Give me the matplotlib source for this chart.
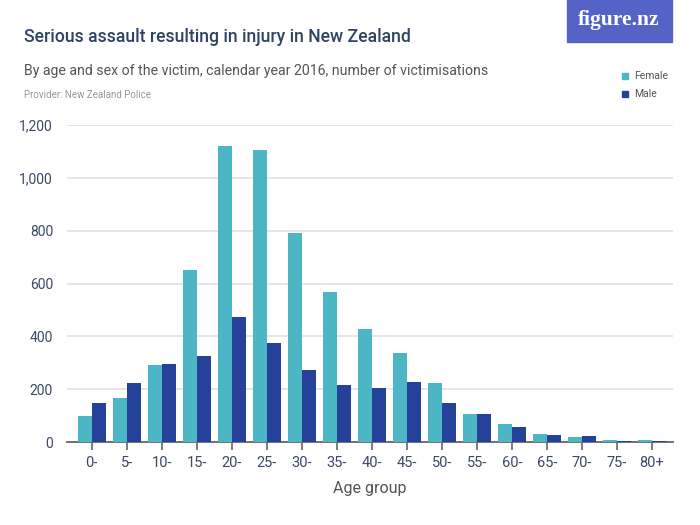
import matplotlib.pyplot as plt
import numpy as np
from matplotlib.patches import Rectangle

age_groups = ['0-', '5-', '10-', '15-', '20-', '25-', '30-', '35-', '40-',
              '45-', '50-', '55-', '60-', '65-', '70-', '75-', '80+']
female = [97, 168, 292, 652, 1122, 1104, 792, 569, 429,
          338, 224, 105, 69, 30, 19, 8, 7]
male = [148, 222, 297, 325, 474, 373, 274, 217, 205,
        226, 148, 107, 58, 28, 23, 4, 3]

female_color = '#4db6c5'
male_color = '#26419a'
text_color = '#3b4a66'
font = ['Roboto', 'DejaVu Sans']

fig = plt.figure(figsize=(7, 5.25), dpi=100)
ax = fig.add_axes([67 / 700, 1 - 442 / 525, 606 / 700, 317 / 525])

x = np.arange(len(age_groups))
w = 0.4
ax.bar(x - w / 2, female, w, color=female_color, zorder=3)
ax.bar(x + w / 2, male, w, color=male_color, zorder=3)

ax.set_xlim(-0.7, 16.6)
ax.set_ylim(0, 1200)
ax.set_yticks(range(0, 1201, 200))
ax.set_yticklabels(['0', '200', '400', '600', '800', '1,000', '1,200'])
ax.set_xticks(x)
ax.set_xticklabels(age_groups)
ax.grid(axis='y', color='#e2e2e2', linewidth=1.2, zorder=0)
for s in ['top', 'right', 'left']:
    ax.spines[s].set_visible(False)
ax.spines['bottom'].set_color('#666666')
ax.spines['bottom'].set_linewidth(1.3)
ax.tick_params(axis='y', length=0, pad=10, labelsize=10, labelcolor=text_color)
ax.tick_params(axis='x', length=6, width=1.2, color='#666666', pad=4,
               labelsize=10.5, labelcolor=text_color)
for lab in ax.get_xticklabels() + ax.get_yticklabels():
    lab.set_family(font)
ax.set_xlabel('Age group', fontsize=11.5, color='#555555', family=font, labelpad=8)

fig.text(24 / 700, 1 - 42 / 525, 'Serious assault resulting in injury in New Zealand',
         fontsize=12.7, fontweight='medium', color='#2f4366', family=font)
fig.text(24 / 700, 1 - 75 / 525,
         'By age and sex of the victim, calendar year 2016, number of victimisations',
         fontsize=10.2, color='#555555', family=font)
fig.text(24 / 700, 1 - 98 / 525, 'Provider: New Zealand Police',
         fontsize=7, color='#999999', family=font)

# logo
fig.patches.append(Rectangle((567 / 700, 1 - 42 / 525), 105 / 700, 42 / 525,
                             transform=fig.transFigure, color='#5562c6', zorder=5))
fig.text(619 / 700, 1 - 20 / 525, 'figure.nz', fontsize=15.5, fontweight='bold',
         color='white', family='Liberation Serif', ha='center', va='center', zorder=6)

# legend
for i, (name, c) in enumerate([('Female', female_color), ('Male', male_color)]):
    yy = 1 - (76 + i * 18) / 525
    fig.patches.append(Rectangle((622 / 700, yy - 3 / 525), 6 / 700, 6 / 525,
                                 transform=fig.transFigure, color=c))
    fig.text(634 / 700, yy, name, fontsize=7.5, color='#555555', family=font,
             va='center')

fig.savefig('out.png', dpi=100)
